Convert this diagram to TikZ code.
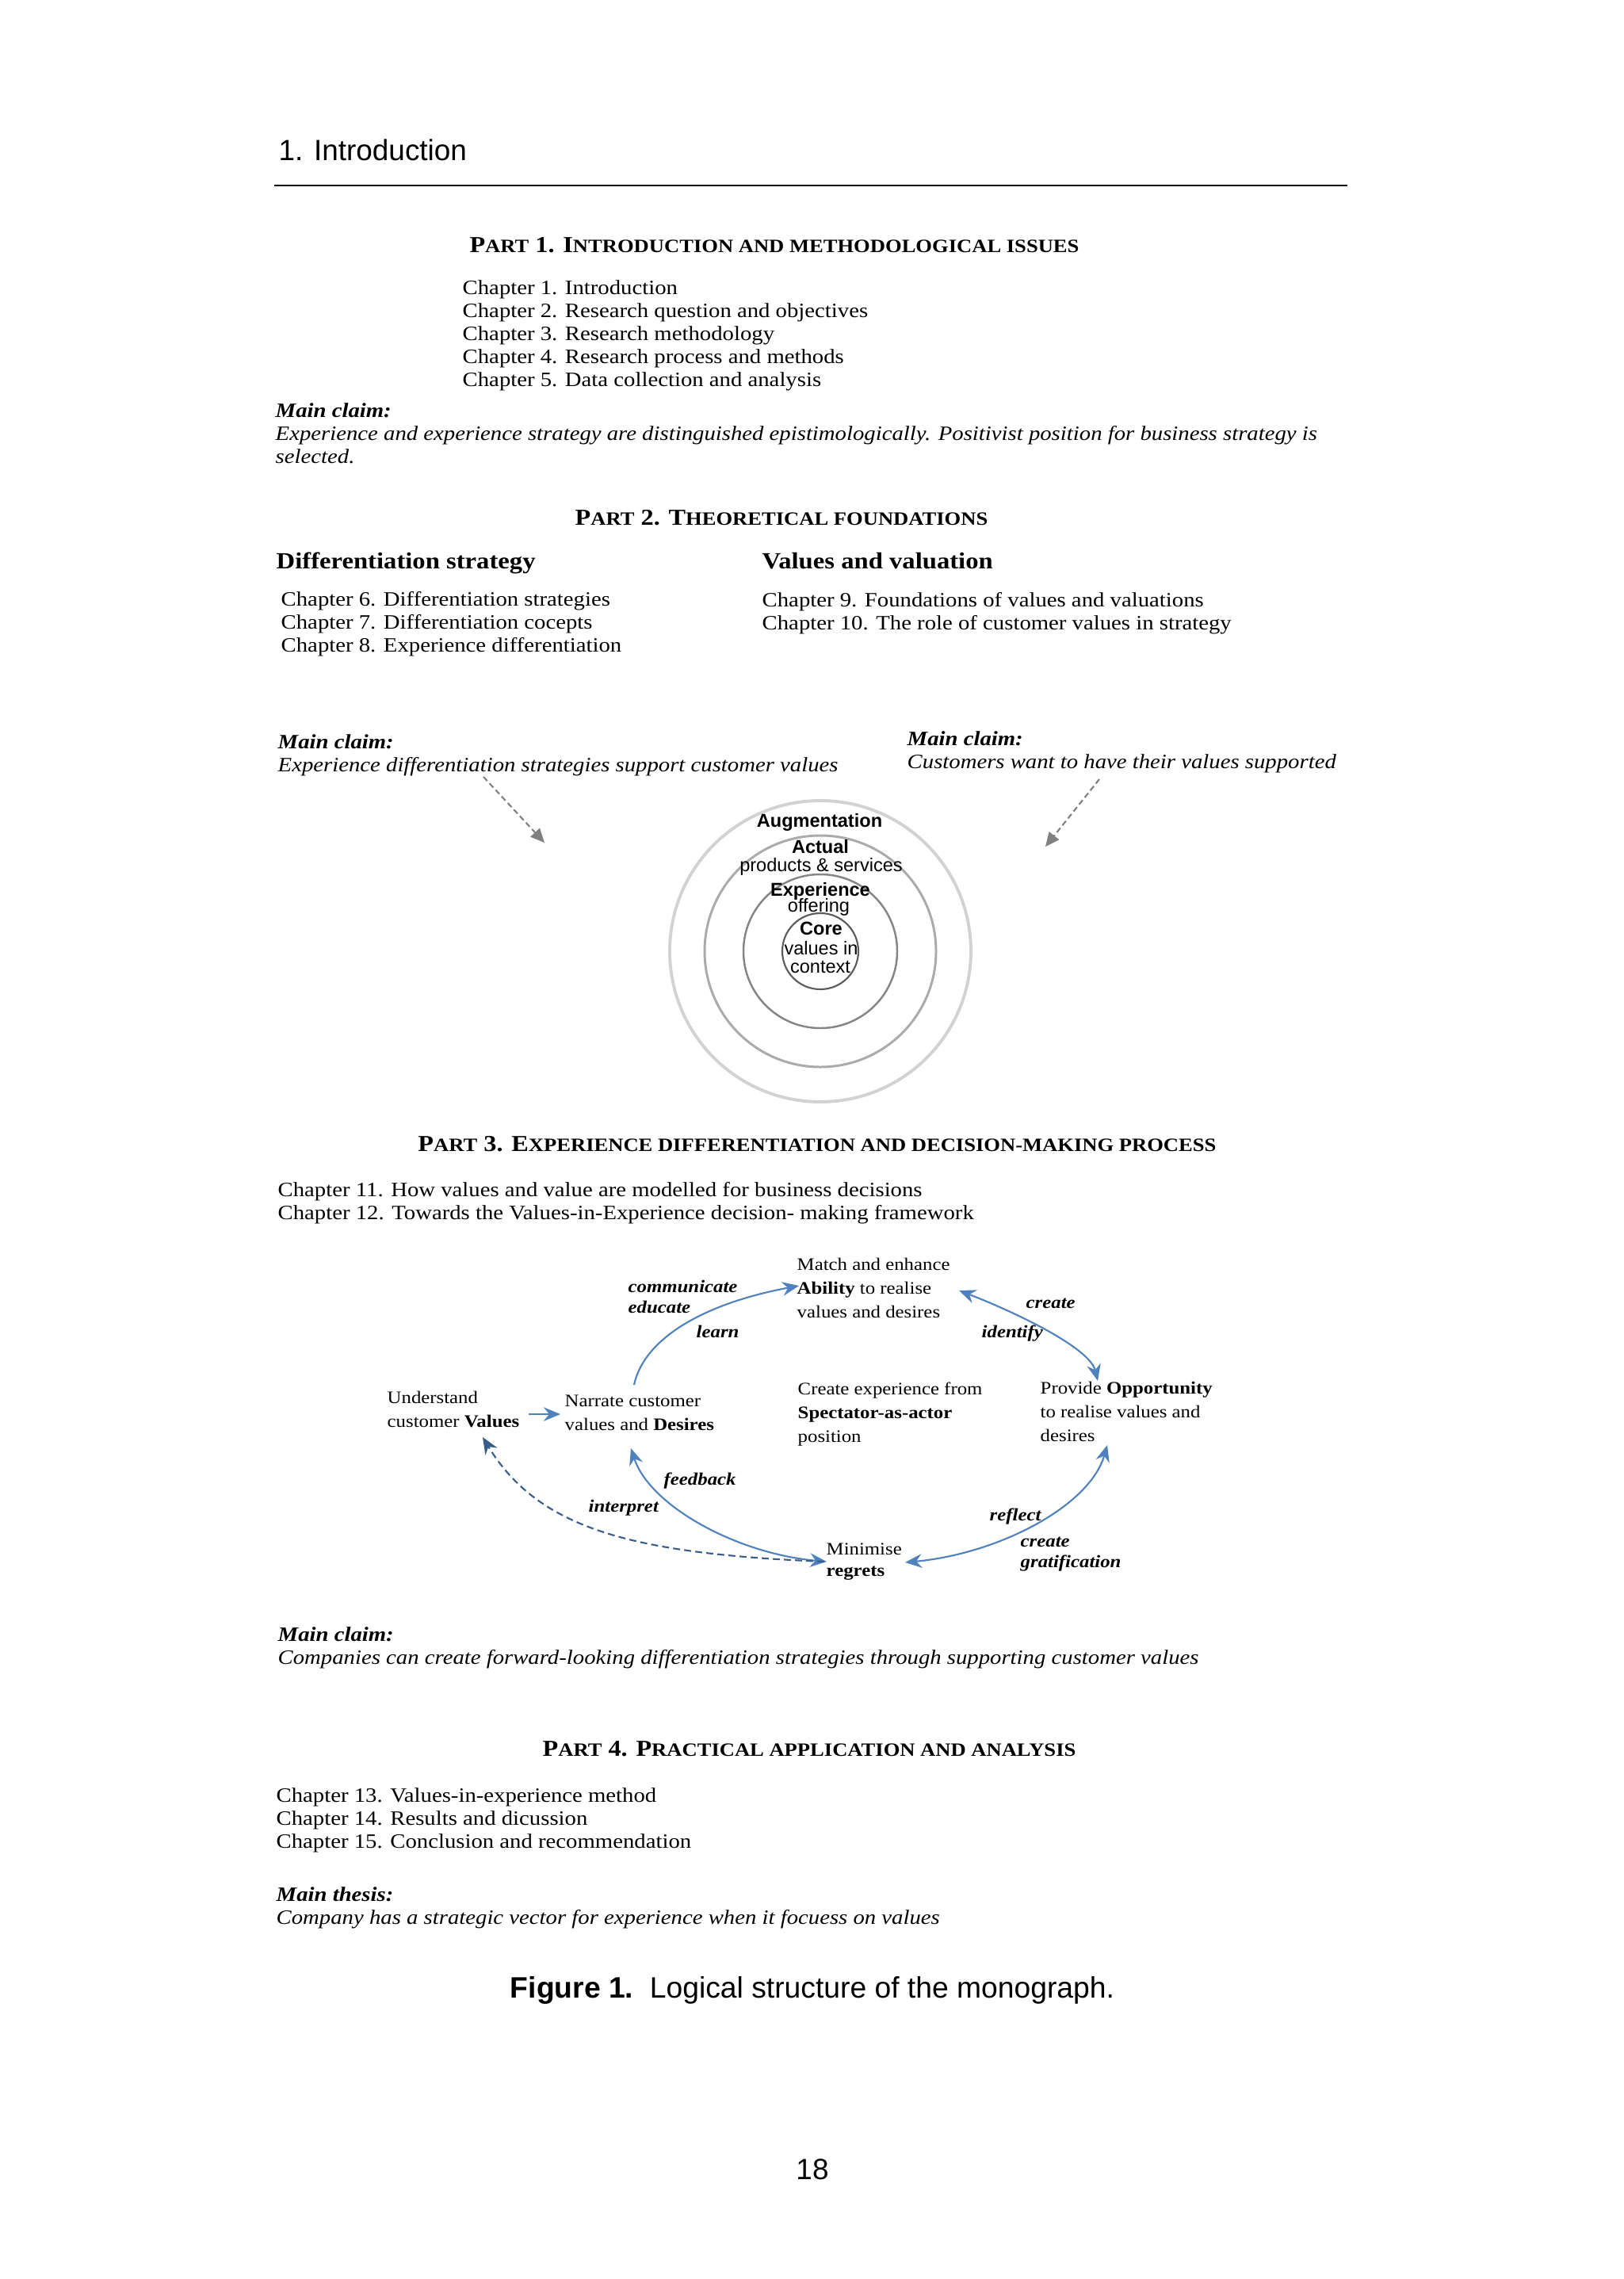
\documentclass[tikz,border=0pt]{standalone}
\usepackage{fontspec}
\setmainfont{Liberation Serif}[FakeStretch=1.12]
\setsansfont{Liberation Sans}
\usetikzlibrary{positioning,arrows.meta}
\definecolor{flowblue}{HTML}{4F81BD}
\definecolor{dashblue}{HTML}{385D8A}
\definecolor{ringA}{HTML}{D2D2D2}
\definecolor{ringB}{HTML}{ABABAB}
\definecolor{ringC}{HTML}{858585}
\definecolor{ringD}{HTML}{5A5A5A}
\newcommand{\smc}[1]{{\fontsize{6.75pt}{8pt}\selectfont #1}}

\begin{document}
\begin{tikzpicture}[
	head node/.style={font=\fontsize{8.2pt}{9pt}\selectfont\bfseries, anchor=base, inner sep=0pt},
	text node/.style={font=\fontsize{7.3pt}{8.25pt}\selectfont, anchor=base west, inner sep=0pt, align=left},
	claim node/.style={text node, font=\fontsize{7.3pt}{8.25pt}\selectfont\itshape},
	topic node/.style={font=\fontsize{8.3pt}{9pt}\selectfont\bfseries, anchor=base west, inner sep=0pt},
	ring node/.style={circle, draw, inner sep=0pt, minimum size=#1},
	ring label/.style={font=\fontsize{6.7pt}{7pt}\selectfont\sffamily, anchor=base, inner sep=0pt},
	cycle node/.style={font=\fontsize{6.3pt}{8.4pt}\selectfont, anchor=base west, inner sep=0pt, align=left},
	verb node/.style={cycle node, font=\fontsize{6.3pt}{7.4pt}\selectfont\bfseries\itshape},
	claim arrow/.style={gray, line width=0.6pt, dash pattern=on 2pt off 1.2pt, -{Triangle[length=5pt,width=4.5pt]}},
	flow/.style={flowblue, line width=0.6pt, -{Stealth[length=6pt,width=5pt,inset=2pt]}},
	both flow/.style={flowblue, line width=0.6pt, {Stealth[length=6pt,width=5pt,inset=2pt]}-{Stealth[length=6pt,width=5pt,inset=2pt]}}]

	\path[fill=white] (0,0) rectangle (20.48,-28.75);
	\useasboundingbox (0,0) rectangle (20.48,-28.75);

	% page header
	\node[font=\fontsize{10.5pt}{12pt}\selectfont\sffamily, anchor=base west, inner sep=0pt](hdr) at (3.51,-2.02){1. Introduction};
	\draw[line width=0.7pt] (3.46,-2.34) -- (17.00,-2.34);

	% part 1 (multi-line nodes sit on their last line)
	\node[head node](p1head) at (9.77,-3.18){P\smc{ART} 1. I\smc{NTRODUCTION AND METHODOLOGICAL ISSUES}};
	\node[text node](p1ch) at (5.83,-4.87){Chapter 1. Introduction\\Chapter 2. Research question and objectives\\Chapter 3. Research methodology\\Chapter 4. Research process and methods\\Chapter 5. Data collection and analysis};
	\node[claim node](p1claim) at (3.47,-5.84){\textbf{Main claim:}\\Experience and experience strategy are distinguished epistimologically. Positivist position for business strategy is\\selected.};

	% part 2
	\node[head node](p2head) at (9.86,-6.62){P\smc{ART} 2. T\smc{HEORETICAL FOUNDATIONS}};
	\node[topic node](diffhead) at (3.48,-7.17){Differentiation strategy};
	\node[topic node](valhead) at (9.61,-7.17){Values and valuation};
	\node[text node](diffch) at (3.54,-8.22){Chapter 6. Differentiation strategies\\Chapter 7. Differentiation cocepts\\Chapter 8. Experience differentiation};
	\node[text node](valch) at (9.61,-7.94){Chapter 9. Foundations of values and valuations\\Chapter 10. The role of customer values in strategy};
	\node[claim node](claimL) at (3.50,-9.73){\textbf{Main claim:}\\Experience differentiation strategies support customer values};
	\node[claim node](claimR) at (11.44,-9.69){\textbf{Main claim:}\\Customers want to have their values supported};

	\coordinate (ringctr) at (10.35,-12.00);
	\node[ring node=3.80cm, draw=ringA, line width=1.1pt](aug) at (ringctr){};
	\node[ring node=2.92cm, draw=ringB, line width=0.85pt](act) at (ringctr){};
	\node[ring node=1.94cm, draw=ringC, line width=0.7pt](exp) at (ringctr){};
	\node[ring node=0.96cm, draw=ringD, line width=0.6pt](core) at (ringctr){};
		\node[ring label, font=\fontsize{6.7pt}{7pt}\selectfont\sffamily\bfseries](augtxt) at (10.34,-10.43){Augmentation};
		\node[ring label, font=\fontsize{6.7pt}{7pt}\selectfont\sffamily\bfseries](acttxt) at (10.35,-10.76){Actual};
		\node[ring label](prodtxt) at (10.36,-10.99){products \& services};
		\node[ring label, font=\fontsize{6.7pt}{7pt}\selectfont\sffamily\bfseries](exptxt) at (10.35,-11.30){Experience};
		\node[ring label](offtxt) at (10.33,-11.50){offering};
		\node[ring label, font=\fontsize{6.7pt}{7pt}\selectfont\sffamily\bfseries](coretxt) at (10.36,-11.79){Core};
		\node[ring label](valtxt) at (10.36,-12.04){values in};
		\node[ring label](ctxtxt) at (10.35,-12.27){context};

	\coordinate (tailL) at (6.10,-9.80);
	\coordinate (tipL) at (6.87,-10.63);
	\coordinate (tailR) at (13.87,-9.83);
	\coordinate (tipR) at (13.19,-10.68);
	\draw[claim arrow] (tailL) -- (tipL);
	\draw[claim arrow] (tailR) -- (tipR);

	% part 3
	\node[head node](p3head) at (10.31,-14.52){P\smc{ART} 3. E\smc{XPERIENCE DIFFERENTIATION AND DECISION-MAKING PROCESS}};
	\node[text node](p3ch) at (3.50,-15.38){Chapter 11. How values and value are modelled for business decisions\\Chapter 12. Towards the Values-in-Experience decision- making framework};

	\node[cycle node](ability) at (10.05,-16.62){Match and enhance\\\textbf{Ability} to realise\\values and desires};
	\node[verb node](comm) at (7.92,-16.56){communicate\\educate};
	\node[verb node](learn) at (8.78,-16.87){learn};
	\node[verb node](create) at (12.94,-16.50){create};
	\node[verb node](identify) at (12.38,-16.87){identify};
	\node[cycle node](understand) at (4.88,-18.00){Understand\\customer \textbf{Values}};
	\node[cycle node](narrate) at (7.12,-18.04){Narrate customer\\values and \textbf{Desires}};
	\node[cycle node](spectator) at (10.06,-18.19){Create experience from\\\textbf{Spectator-as-actor}\\position};
	\node[cycle node](provide) at (13.12,-18.18){Provide \textbf{Opportunity}\\to realise values and\\desires};
	\node[verb node](feedback) at (8.37,-18.73){feedback};
	\node[verb node](interpret) at (7.42,-19.07){interpret};
	\node[verb node](reflect) at (12.48,-19.18){reflect};
	\node[verb node](gratif) at (12.87,-19.77){create\\gratification};
	\node[cycle node, font=\fontsize{6.3pt}{7.6pt}\selectfont](minimise) at (10.42,-19.88){Minimise\\\textbf{regrets}};

	\coordinate (narrate-top) at (8.00,-17.47);
	\coordinate (ability-in) at (10.08,-16.22);
	\coordinate (ability-out) at (12.10,-16.28);
	\coordinate (provide-top) at (13.85,-17.42);
	\coordinate (provide-bot) at (13.97,-18.23);
	\coordinate (minimise-r) at (11.42,-19.71);
	\coordinate (minimise-l) at (10.43,-19.70);
	\coordinate (narrate-bot) at (7.96,-18.27);
	\coordinate (values-bot) at (6.09,-18.13);

	\draw[flow] (6.67,-17.84) -- (7.07,-17.84);
	\draw[flow] (narrate-top) .. controls (8.12,-16.90) and (8.85,-16.45) .. (ability-in);
	\draw[both flow] (ability-out) .. controls (12.80,-16.55) and (13.75,-17.00) .. (provide-top);
	\draw[both flow] (provide-bot) .. controls (13.75,-19.00) and (12.60,-19.60) .. (minimise-r);
	\draw[both flow] (narrate-bot) .. controls (8.20,-19.00) and (9.30,-19.60) .. (minimise-l);
	\draw[dashblue, line width=0.6pt, dash pattern=on 2.5pt off 1.5pt, -{Stealth[length=6pt,width=5pt,inset=2pt]}]
		(10.40,-19.70) .. controls (8.00,-19.60) and (6.80,-19.30) .. (values-bot);

	\node[claim node](p3claim) at (3.50,-20.99){\textbf{Main claim:}\\Companies can create forward-looking differentiation strategies through supporting customer values};

	% part 4
	\node[head node](p4head) at (10.21,-22.15){P\smc{ART} 4. P\smc{RACTICAL APPLICATION AND ANALYSIS}};
	\node[text node](p4ch) at (3.48,-23.31){Chapter 13. Values-in-experience method\\Chapter 14. Results and dicussion\\Chapter 15. Conclusion and recommendation};
	\node[claim node](thesis) at (3.48,-24.27){\textbf{Main thesis:}\\Company has a strategic vector for experience when it focuess on values};

	\node[font=\fontsize{10.6pt}{12pt}\selectfont\sffamily, anchor=base, inner sep=0pt](caption) at (10.25,-25.20){\textbf{Figure 1.}\ \ Logical structure of the monograph.};
	\node[font=\fontsize{10.5pt}{12pt}\selectfont\sffamily, anchor=base, inner sep=0pt](pageno) at (10.25,-27.49){18};
\end{tikzpicture}
\end{document}
